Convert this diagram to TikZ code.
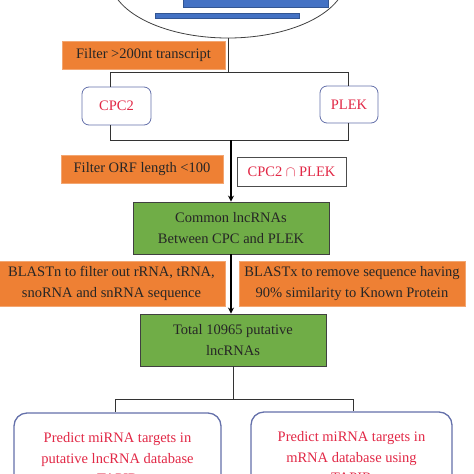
\documentclass[tikz,border=0pt]{standalone}
\usepackage{fontspec}
\setmainfont{Liberation Serif}
\usepackage{tikz}
\usetikzlibrary{arrows.meta,positioning}

\definecolor{boxorange}{RGB}{238,128,52}
\definecolor{boxgreen}{RGB}{112,173,71}
\definecolor{textred}{RGB}{226,40,70}
\definecolor{barblue}{RGB}{68,114,196}
\definecolor{edgeblue}{RGB}{100,112,170}

\begin{document}
\begin{tikzpicture}[x=1pt,y=-1pt,
  font=\fontsize{14.5}{20.5}\selectfont,
  link/.style={draw=black!80,line width=0.8pt},
  bigarrow/.style={draw=black,line width=1.7pt,-{Stealth[length=6pt,width=6pt]}},
  filterbox/.style={rectangle,fill=boxorange,draw=boxorange!70!white,line width=0.6pt,
    text=black!85,align=center,inner sep=2pt},
  stepgreen/.style={rectangle,fill=boxgreen,draw=black!75,line width=0.9pt,
    text=black!85,align=center,inner sep=2pt},
  toolbox/.style={rectangle,rounded corners=7pt,draw=edgeblue,line width=0.8pt,
    fill=white,text=textred,align=center},
  predictbox/.style={rectangle,rounded corners=13pt,draw=edgeblue,line width=1.3pt,
    fill=white,text=textred,align=center}]
  \useasboundingbox (0,0) rectangle (474,474);
  \clip (0,0) rectangle (474,474);

  % Transkripte (Ellipse mit Balken)
  \draw[black!75,line width=0.8pt] (228,-22) ellipse (118 and 60);
  \draw[fill=barblue,draw=barblue!75!black,line width=0.5pt] (183,-6) rectangle (328,7);
  \draw[fill=barblue,draw=barblue!75!black,line width=0.5pt] (155,13) rectangle (299,18);
  \coordinate (ellbot) at (228,38);

  % Filter und Werkzeuge
  \node[filterbox,minimum width=163,minimum height=28] (len) at (143.5,55) {Filter >200nt transcript};
  \node[toolbox,minimum width=69,minimum height=38] (cpc) at (116.5,106) {CPC2};
  \node[toolbox,minimum width=58,minimum height=37] (plek) at (349,104.5) {PLEK};

  \coordinate (sL) at (110,72);
  \coordinate (sR) at (348,72);
  \draw[link] (ellbot) -- (ellbot |- sL);
  \draw[link] (sL) -- (sR);
  \draw[link] (sL) -- (sL |- cpc.north);
  \draw[link] (sR) -- (sR |- plek.north);

  \coordinate (mL) at (110,140);
  \coordinate (mR) at (348,140);
  \coordinate (mC) at (231,140);
  \draw[link] (sL |- cpc.south) -- (mL) -- (mR) -- (sR |- plek.south);

  % gemeinsame lncRNAs
  \node[filterbox,minimum width=162,minimum height=28] (orf) at (142,169) {Filter ORF length <100};
  \node[rectangle,draw=black!70,line width=0.7pt,fill=white,text=textred,
    minimum width=109,minimum height=29] (inter) at (291.5,171.5) {CPC2 $\cap$ PLEK};
  \node[stepgreen,minimum width=196,minimum height=52] (common) at (231,228)
    {Common lncRNAs\\Between CPC and PLEK};
  \draw[bigarrow] (mC) -- (common.north);

  % BLAST Schritte
  \node[filterbox,minimum width=228,minimum height=45] (blastn) at (111.5,283.5)
    {BLASTn to filter out rRNA, tRNA,\\snoRNA and snRNA sequence};
  \node[filterbox,minimum width=226,minimum height=45] (blastx) at (352,283.5)
    {BLASTx to remove sequence having\\90\% similarity to Known Protein};
  \node[stepgreen,minimum width=186,minimum height=52,text depth=0pt] (total) at (233,340)
    {Total 10965 putative\\lncRNAs};
  \draw[bigarrow] (common.south) -- (common.south |- total.north);

  % Vorhersage der miRNA Ziele
  \node[predictbox,minimum width=207,minimum height=90] (predL) at (117.5,458)
    {Predict miRNA targets in\\putative lncRNA database\\TAPIR};
  \node[predictbox,minimum width=201,minimum height=90] (predR) at (351.5,457)
    {Predict miRNA targets in\\mRNA database using\\TAPIR};

  \coordinate (bL) at (115,399);
  \coordinate (bR) at (353,399);
  \draw[link] (total.south) -- (total.south |- bL);
  \draw[link] (bL) -- (bR);
  \draw[link] (bL) -- (bL |- predL.north);
  \draw[link] (bR) -- (bR |- predR.north);
\end{tikzpicture}
\end{document}
